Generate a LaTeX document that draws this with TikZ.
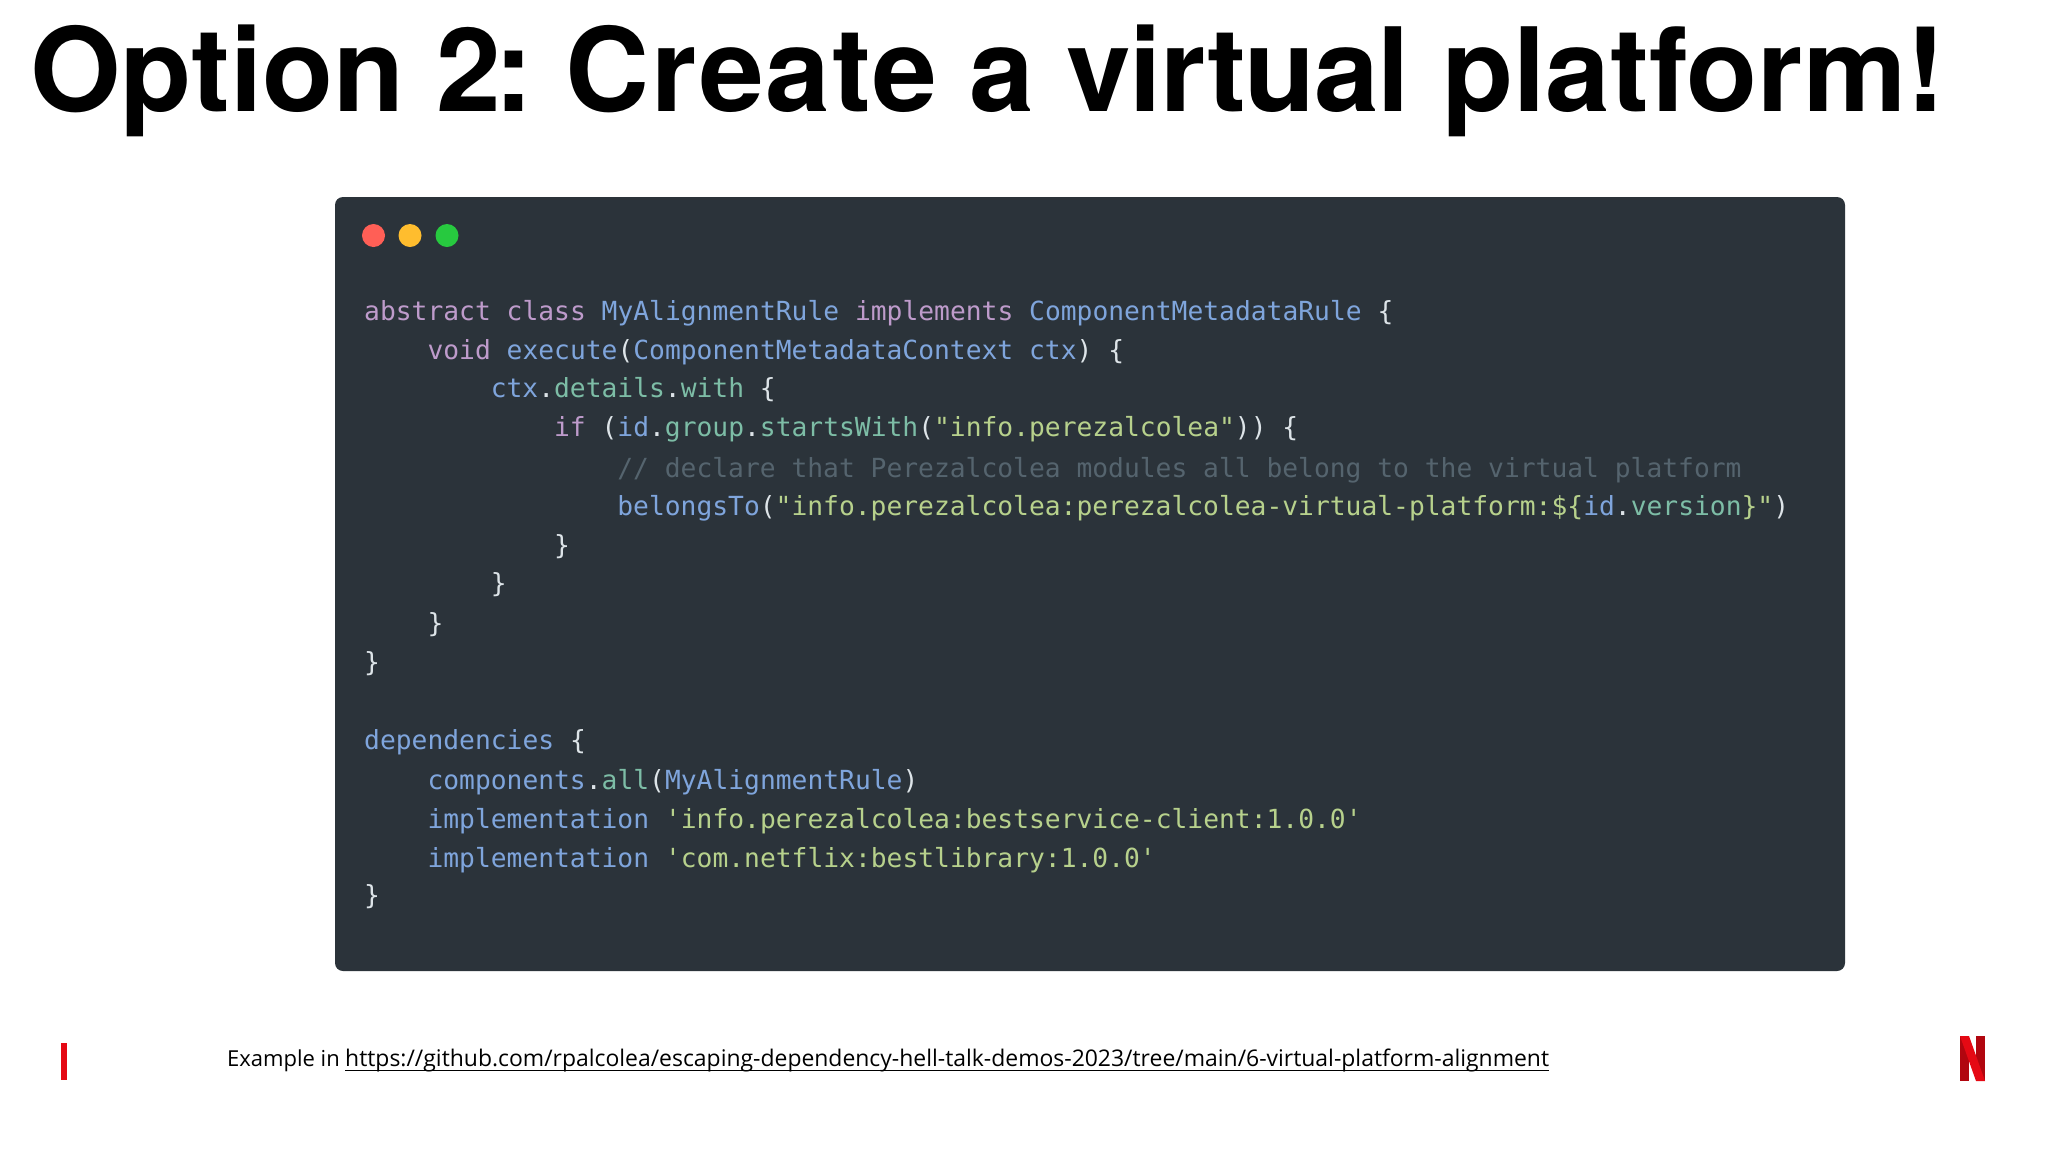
\documentclass[tikz,border=0pt]{standalone}
\usepackage{fontspec}
\setmainfont{Liberation Sans}
\setmonofont{DejaVu Sans Mono}
\newfontfamily\footfont{Open Sans}
\newfontfamily\titlefont{TeX Gyre Heros}
\definecolor{panelbg}{HTML}{2B333A}
\definecolor{codeplain}{HTML}{DDE4E8}
\definecolor{codekw}{HTML}{BE9BCB}
\definecolor{codety}{HTML}{7FA5DC}
\definecolor{codeprop}{HTML}{7DBDA6}
\definecolor{codestr}{HTML}{B7D18C}
\definecolor{codecmt}{HTML}{55646E}
\definecolor{dotred}{HTML}{FF5F56}
\definecolor{dotyellow}{HTML}{FFBD2E}
\definecolor{dotgreen}{HTML}{27C93F}
\definecolor{nflxred}{HTML}{E50914}
\definecolor{nflxdark}{HTML}{B1060F}
\newcommand{\kw}[1]{\textcolor{codekw}{#1}}
\newcommand{\ty}[1]{\textcolor{codety}{#1}}
\newcommand{\pr}[1]{\textcolor{codeprop}{#1}}
\newcommand{\st}[1]{\textcolor{codestr}{#1}}
\tikzset{
	codeline/.style={anchor=base west,inner sep=0pt,text=codeplain,font=\ttfamily\fontsize{26.3}{30}\selectfont},
	winbtn/.style={circle,minimum size=23pt,inner sep=0pt},
	foottext/.style={anchor=base west,inner sep=0pt,font=\footfont\fontsize{22.93}{28}\selectfont},
}
\begin{document}
\begin{tikzpicture}[x=1pt,y=-1pt]
	% Page
	\fill[white] (0,0) rectangle (2048,1152);
	\useasboundingbox (0,0) rectangle (2048,1152);
	% Title
	\node[anchor=base west,inner sep=0pt,font=\titlefont\bfseries\fontsize{116.3}{120}\selectfont\frenchspacing] (title) at (30,111) {Option 2\kern-7pt: {\addfontfeature{LetterSpace=1.7}Create} a {\addfontfeature{LetterSpace=-1.1}virtual} platform!};
	% Code panel
	\fill[panelbg,rounded corners=8pt] (335,197) rectangle (1845,971);
	\foreach \x/\c/\n in {373.5/dotred/red,410/dotyellow/yellow,447/dotgreen/green}
		\node[winbtn,fill=\c] (btn\n) at (\x,235.5) {};
	% Code lines
	\node[codeline] (line1) at (364,320) {\kw{abstract class} \ty{MyAlignmentRule} \kw{implements} \ty{ComponentMetadataRule} \{};
	\node[codeline] (line2) at (427.3,359) {\kw{void} \ty{execute}(\ty{ComponentMetadataContext ctx}) \{};
	\node[codeline] (line3) at (490.6,397) {\ty{ctx}.\pr{details}.\pr{with} \{};
	\node[codeline] (line4) at (553.9,436) {\kw{if} (\ty{id}.\pr{group}.\pr{startsWith}(\st{"info.perezalcolea"})) \{};
	\node[codeline,text=codecmt] (line5) at (617.2,477) {// declare that Perezalcolea modules all belong to the virtual platform};
	\node[codeline] (line6) at (617.2,515) {\ty{belongsTo}(\st{"info.perezalcolea:perezalcolea-virtual-platform:\$\{}\ty{id}.\pr{version}\st{\}"})};
	\node[codeline] (line7) at (553.9,554) {\}};
	\node[codeline] (line8) at (490.6,592) {\}};
	\node[codeline] (line9) at (427.3,632) {\}};
	\node[codeline] (line10) at (364,671) {\}};
	\node[codeline] (line11) at (364,749) {\ty{dependencies} \{};
	\node[codeline] (line12) at (427.3,789) {\ty{components}.\pr{all}(\ty{MyAlignmentRule})};
	\node[codeline] (line13) at (427.3,828) {\ty{implementation} \st{'info.perezalcolea:bestservice-client:1.0.0'}};
	\node[codeline] (line14) at (427.3,867) {\ty{implementation} \st{'com.netflix:bestlibrary:1.0.0'}};
	\node[codeline] (line15) at (364,904) {\}};
	% Footer
	\fill[nflxred] (61,1043) rectangle (67,1080);
	\node[foottext,font=\footfont\fontsize{22}{28}\selectfont] (source) at (227,1066) {Example in};
	\node[foottext] (sourceurl) at (345,1066) {https://github.com/rpalcolea/escaping-dependency-hell-talk-demos-2023/tree/main/6-virtual-platform-alignment};
	\draw[line width=1.6pt] ([yshift=-4.5pt]sourceurl.base west) -- ([yshift=-4.5pt]sourceurl.base east);
	% N mark
	\fill[nflxdark] (1960,1036) rectangle (1969,1081);
	\fill[nflxdark] (1976,1036) rectangle (1985,1081);
	\fill[nflxred] (1960,1036) -- (1969,1036) -- (1985,1081) -- (1976,1081) -- cycle;
\end{tikzpicture}
\end{document}
